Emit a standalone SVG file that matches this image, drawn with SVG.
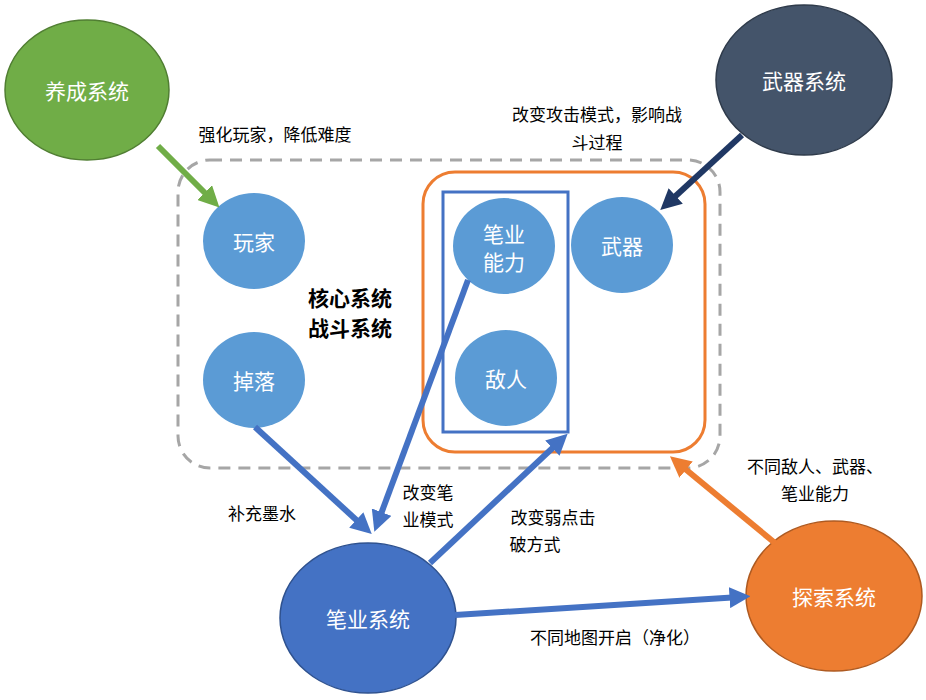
<svg xmlns="http://www.w3.org/2000/svg" width="926" height="700" viewBox="0 0 926 700">
<style>
text{font-family:"Noto Sans CJK SC","Liberation Sans",sans-serif;text-anchor:middle;dominant-baseline:central}
.w{fill:#fff;font-size:21px}
.s{fill:#000;font-size:17px}
.c{fill:#5B9BD5}
.big{stroke:#2F528F;stroke-width:1.5}
</style>
<defs>
<marker id="ab" viewBox="0 0 10 10" refX="5" refY="5" markerWidth="3.5" markerHeight="3.5" orient="auto"><path d="M0,0L10,5L0,10z" fill="#4472C4"/></marker>
<marker id="ag" viewBox="0 0 10 10" refX="5" refY="5" markerWidth="3.5" markerHeight="3.5" orient="auto"><path d="M0,0L10,5L0,10z" fill="#70AD47"/></marker>
<marker id="an" viewBox="0 0 10 10" refX="5" refY="5" markerWidth="3.5" markerHeight="3.5" orient="auto"><path d="M0,0L10,5L0,10z" fill="#203864"/></marker>
<marker id="ao" viewBox="0 0 10 10" refX="5" refY="5" markerWidth="3.5" markerHeight="3.5" orient="auto"><path d="M0,0L10,5L0,10z" fill="#ED7D31"/></marker>
</defs>
<rect x="178" y="160" width="542" height="308" rx="32" fill="none" stroke="#A6A6A6" stroke-width="3" stroke-dasharray="12,8"/>
<rect x="423" y="172" width="282" height="280" rx="32" fill="none" stroke="#ED7D31" stroke-width="3"/>
<rect x="443" y="192" width="125" height="240" fill="none" stroke="#4472C4" stroke-width="3"/>
<g id="n1"><ellipse cx="87" cy="90" rx="82" ry="70" fill="#70AD47" stroke="#507E32" stroke-width="1.5"/><text class="w" x="87" y="90">养成系统</text></g>
<g id="n2"><ellipse cx="804" cy="80" rx="88" ry="75" fill="#44546A" stroke="#2F3B4B" stroke-width="1.5"/><text class="w" x="804" y="80">武器系统</text></g>
<g id="n3"><ellipse class="c" cx="254" cy="241" rx="51" ry="48"/><text class="w" x="254" y="241">玩家</text></g>
<g id="n4"><ellipse class="c" cx="254" cy="380" rx="51" ry="48"/><text class="w" x="254" y="380">掉落</text></g>
<g id="n5"><ellipse class="c" cx="504" cy="246" rx="51" ry="48"/><text class="w" x="504" y="233">笔业</text><text class="w" x="504" y="261">能力</text></g>
<g id="n6"><ellipse class="c" cx="506" cy="378" rx="51" ry="48"/><text class="w" x="506" y="378">敌人</text></g>
<g id="n7"><ellipse class="c" cx="622" cy="245" rx="51" ry="48"/><text class="w" x="622" y="245">武器</text></g>
<g id="n8"><text x="350" y="297" style="font-size:21px;font-weight:bold">核心系统</text><text x="350" y="327" style="font-size:21px;font-weight:bold">战斗系统</text></g>
<g id="n9"><ellipse cx="368" cy="618" rx="88" ry="75" fill="#4472C4" class="big"/><text class="w" x="368" y="618">笔业系统</text></g>
<g id="n10"><ellipse cx="834" cy="596" rx="88" ry="75" fill="#ED7D31" stroke="#AE5A21" stroke-width="1.5"/><text class="w" x="834" y="596">探索系统</text></g>
<g id="edges" fill="none" stroke-width="6">
<line x1="158" y1="146" x2="212" y2="200" stroke="#70AD47" marker-end="url(#ag)"/>
<line x1="742" y1="135" x2="668" y2="203" stroke="#203864" marker-end="url(#an)"/>
<line x1="255" y1="427" x2="364" y2="527" stroke="#4472C4" marker-end="url(#ab)"/>
<line x1="468" y1="280" x2="378" y2="522" stroke="#4472C4" marker-end="url(#ab)"/>
<line x1="430" y1="563" x2="560" y2="441" stroke="#4472C4" marker-end="url(#ab)"/>
<line x1="455" y1="615" x2="740" y2="597" stroke="#4472C4" marker-end="url(#ab)"/>
<line x1="775" y1="543" x2="678" y2="463" stroke="#ED7D31" marker-end="url(#ao)"/>
</g>
<g id="labels">
<text class="s" x="275" y="133">强化玩家，降低难度</text>
<text class="s" x="597" y="113">改变攻击模式，影响战</text>
<text class="s" x="597" y="141">斗过程</text>
<text class="s" x="262" y="512">补充墨水</text>
<text class="s" x="428" y="491">改变笔</text>
<text class="s" x="428" y="518">业模式</text>
<text class="s" x="553" y="516">改变弱点击</text>
<text class="s" x="535" y="543">破方式</text>
<text class="s" x="615" y="636">不同地图开启（净化）</text>
<text class="s" x="815" y="465">不同敌人、武器、</text>
<text class="s" x="815" y="492">笔业能力</text>
</g>
</svg>
